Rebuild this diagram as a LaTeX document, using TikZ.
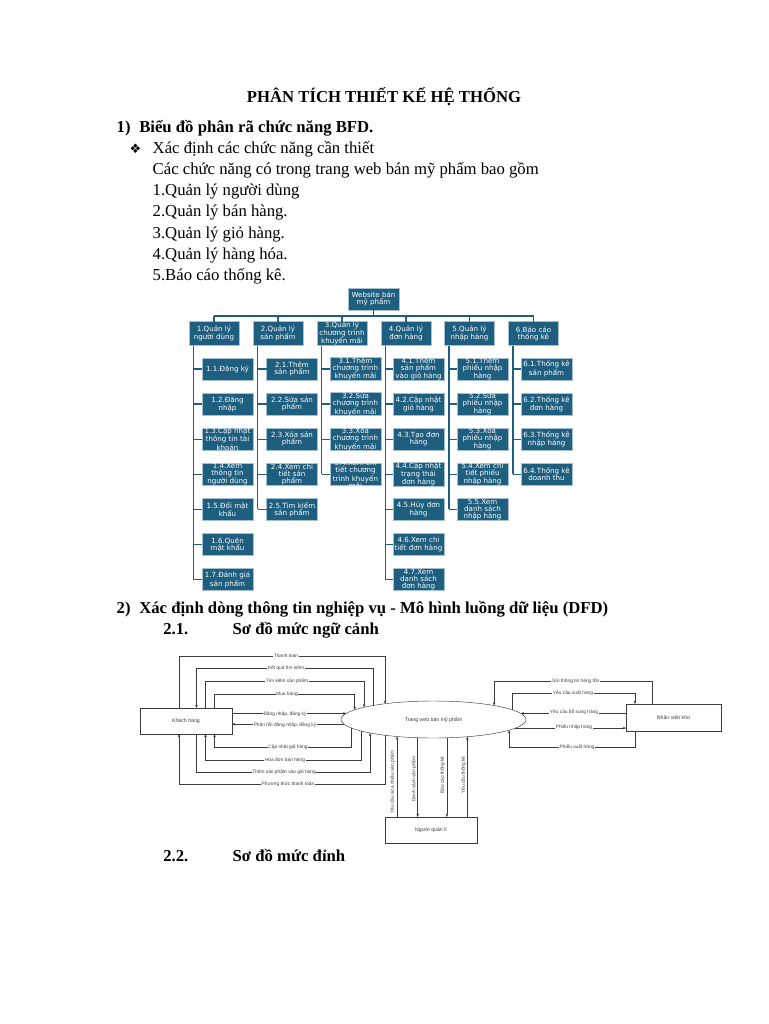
\documentclass[tikz,border=0pt]{standalone}
\usepackage{fontspec}
\setmainfont{Liberation Serif}
\newfontfamily\dejavu{DejaVu Sans}
\newfontfamily\arial{Liberation Sans}
\usetikzlibrary{arrows.meta,shapes.geometric}
\definecolor{bfdblue}{RGB}{30,94,126}
\definecolor{bfdedge}{RGB}{165,192,210}
\definecolor{dfdgray}{RGB}{60,60,60}
\tikzset{
  doc/.style={inner sep=0pt, outer sep=0pt, anchor=base west, font=\fontsize{16.7}{20}\selectfont},
  docb/.style={doc, font=\fontsize{16.7}{20}\selectfont\bfseries},
  bfdbox/.style={draw=bfdedge, line width=0.5pt, fill=bfdblue, text=white,
    font=\dejavu\fontsize{7.1}{7.1}\selectfont, align=center,
    minimum width=51pt, minimum height=22pt, inner sep=0pt, outer sep=0pt},
  headbox/.style={bfdbox, minimum width=50pt, minimum height=24pt},
  bfdtext/.style={text=white, font=\dejavu\fontsize{7.1}{7.1}\selectfont, align=center, inner sep=0pt},
  tree/.style={draw=bfdblue, line width=1.3pt},
  dfdline/.style={draw=dfdgray, line width=0.45pt},
  arr/.style={dfdline, -{Stealth[length=3.2pt,width=2.6pt]}},
  lbl/.style={fill=white, inner sep=0.6pt, font=\arial\fontsize{4.8}{5.5}\selectfont, text=dfdgray},
  vlbl/.style={rotate=90, inner sep=0pt, font=\arial\fontsize{4.8}{5.5}\selectfont, text=dfdgray},
  dfdbox/.style={draw=dfdgray, line width=0.45pt, fill=white, inner sep=0pt, outer sep=0pt,
    font=\arial\fontsize{5.2}{6}\selectfont, text=dfdgray},
}
\begin{document}
\begin{tikzpicture}[x=1pt,y=-1pt]
\useasboundingbox (0,0) rectangle (768,1024);
\fill[white] (0,0) rectangle (768,1024);

% ---------------- document text ----------------
\node[docb, anchor=base] (title) at (384,102.5) {PHÂN TÍCH THIẾT KẾ HỆ THỐNG};
\node[docb] (n1) at (116.7,133) {1)};
\node[docb] (s1t) at (139.3,133) {Biểu đồ phân rã chức năng BFD.};
\node[doc, font=\dejavu\fontsize{13}{14}\selectfont] (bul) at (129.5,153.5) {❖};
\node[doc] (l0) at (152.7,154) {Xác định các chức năng cần thiết};
\node[doc] (l1) at (152.7,175) {Các chức năng có trong trang web bán mỹ phẩm bao gồm};
\node[doc] (l2) at (152.7,196) {1.Quản lý người dùng};
\node[doc] (l3) at (152.7,217) {2.Quản lý bán hàng.};
\node[doc] (l4) at (152.7,238) {3.Quản lý giỏ hàng.};
\node[doc] (l5) at (152.7,259) {4.Quản lý hàng hóa.};
\node[doc] (l6) at (152.7,280) {5.Báo cáo thống kê.};
\node[docb] (n2) at (116.7,613.3) {2)};
\node[docb] (s2t) at (139.3,613.3) {Xác định dòng thông tin nghiệp vụ - Mô hình luồng dữ liệu (DFD)};
\node[docb] (n21) at (163.3,634.3) {2.1.};
\node[docb] (s21) at (232.7,634.3) {Sơ đồ mức ngữ cảnh};
\node[docb] (n22) at (163.3,861.7) {2.2.};
\node[docb] (s22) at (232.7,861.7) {Sơ đồ mức đỉnh};

% ---------------- BFD ----------------
\node[bfdbox] (root) at (373.5,299) {Website bán\\mỹ phẩm};
\node[headbox] (h1) at (214,333.5) {1.Quản lý\\người dùng};
\node[headbox] (h2) at (278,333.5) {2.Quản lý\\sản phẩm};
\node[headbox] (h3) at (342,333.5) {3.Quản lý\\chương trình\\khuyến mãi};
\node[headbox] (h4) at (406,333.5) {4.Quản lý\\đơn hàng};
\node[headbox] (h5) at (469.5,333.5) {5.Quản lý\\nhập hàng};
\node[headbox] (h6) at (533.5,333.5) {6.Báo cáo\\thống kê};

\coordinate (bus) at (0,316);
\coordinate (sp1) at (193.5,0);
\coordinate (sp2) at (257.5,0);
\coordinate (sp3) at (321.5,0);
\coordinate (sp4) at (385.5,0);
\coordinate (sp5) at (449,0);
\coordinate (sp6) at (513,0);

\foreach \t [count=\k] in {{1.1.Đăng ký},{1.2.Đăng\\nhập},{1.3.Cập nhật\\thông tin tài\\khoản},{1.4.Xem\\thông tin\\người dùng},{1.5.Đổi mật\\khẩu},{1.6.Quên\\mật khẩu},{1.7.Đánh giá\\sản phẩm}}
  \node[bfdbox] (c1-\k) at (227.5,{369+35.1*(\k-1)}) {\t};
\foreach \t [count=\k] in {{2.1.Thêm\\sản phẩm},{2.2.Sửa sản\\phẩm},{2.3.Xóa sản\\phẩm},{2.4.Xem chi\\tiết sản\\phẩm},{2.5.Tìm kiếm\\sản phẩm}}
  \node[bfdbox] (c2-\k) at (292,{369+35.1*(\k-1)}) {\t};
\foreach \t [count=\k] in {{3.1.Thêm\\chương trình\\khuyến mãi},{3.2.Sửa\\chương trình\\khuyến mãi},{3.3.Xóa\\chương trình\\khuyến mãi}}
  \node[bfdbox] (c3-\k) at (355.5,{369+35.1*(\k-1)}) {\t};
\node[bfdbox, label={[bfdtext]center:3.4.Xem chi\\tiết chương\\trình khuyến\\mãi}] (c3-4) at (355.5,474.3) {};
\foreach \t [count=\k] in {{4.1.Thêm\\sản phẩm\\vào giỏ hàng},{4.2.Cập nhật\\giỏ hàng},{4.3.Tạo đơn\\hàng},{4.4.Cập nhật\\trạng thái\\đơn hàng},{4.5.Hủy đơn\\hàng},{4.6.Xem chi\\tiết đơn hàng},{4.7.Xem\\danh sách\\đơn hàng}}
  \node[bfdbox] (c4-\k) at (418.5,{369+35.1*(\k-1)}) {\t};
\foreach \t [count=\k] in {{5.1.Thêm\\phiếu nhập\\hàng},{5.2.Sửa\\phiếu nhập\\hàng},{5.3.Xóa\\phiếu nhập\\hàng},{5.4.Xem chi\\tiết phiếu\\nhập hàng},{5.5.Xem\\danh sách\\nhập hàng}}
  \node[bfdbox] (c5-\k) at (482.5,{369+35.1*(\k-1)}) {\t};
\foreach \t [count=\k] in {{6.1.Thống kê\\sản phẩm},{6.2.Thống kê\\đơn hàng},{6.3.Thống kê\\nhập hàng},{6.4.Thống kê\\doanh thu}}
  \node[bfdbox] (c6-\k) at (546.5,{369+35.1*(\k-1)}) {\t};

\draw[tree] (root.south) -- (root.south |- bus);
\draw[tree] (h1.north |- bus) -- (h6.north |- bus);
\foreach \i in {1,...,6} \draw[tree] (h\i.north |- bus) -- (h\i.north);
\foreach \i/\n in {1/7,2/5,3/4,4/7,5/5,6/4} {
  \draw[tree] (sp\i |- h\i.south) -- (sp\i |- c\i-\n.west);
  \foreach \k in {1,...,\n} \draw[tree] (sp\i |- c\i-\k.west) -- (c\i-\k.west);
}

% ---------------- DFD ----------------
\node[dfdbox, minimum width=92pt, minimum height=26pt] (kh) at (186,721) {Khách hàng};
\node[dfdbox, ellipse, minimum width=185pt, minimum height=37pt] (ell) at (433.5,719.5) {Trang web bán mỹ phẩm};
\node[dfdbox, minimum width=92pt, minimum height=26pt] (nql) at (431,830) {Người quản lí};
\node[dfdbox, minimum width=95pt, minimum height=27pt] (kho) at (673.5,717.5) {Nhân viên kho};

\coordinate (t1) at (179,656);
\coordinate (t2) at (196.5,668);
\coordinate (t3) at (205.5,681);
\coordinate (t4) at (214.5,694);
\coordinate (b1) at (214.5,747.5);
\coordinate (b2) at (205.5,760);
\coordinate (b3) at (196.5,772);
\coordinate (b4) at (179,784.5);

\draw[arr] (kh.north -| t1) -- (t1) -| (ell.162.0);
\draw[arr] (ell.167.3) |- (t2) -- (kh.north -| t2);
\draw[arr] (kh.north -| t3) -- (t3) -| (ell.170.4);
\draw[arr] (kh.north -| t4) -- (t4) -| (ell.173.2);
\draw[arr] (kh.east |- ell.176.4) -- (ell.176.4);
\draw[arr] (ell.183.6) -- (kh.east |- ell.183.6);
\draw[arr] (ell.186.8) |- (b1) -- (kh.south -| b1);
\draw[arr] (ell.189.6) |- (b2) -- (kh.south -| b2);
\draw[arr] (kh.south -| b3) -- (b3) -| (ell.192.7);
\draw[arr] (ell.198.0) |- (b4) -- (kh.south -| b4);

\node[lbl] at (286,656) {Thanh toán};
\node[lbl] at (286,668) {Kết quả tìm kiếm};
\node[lbl] at (287,681) {Tìm kiếm sản phẩm};
\node[lbl] at (287,694) {Mua hàng};
\node[lbl] at (285,714) {Đăng nhập, đăng ký};
\node[lbl] at (285,725) {Phản hồi đăng nhập, đăng ký};
\node[lbl] at (288,747.5) {Cập nhật giỏ hàng};
\node[lbl] at (285,760) {Hóa đơn bán hàng};
\node[lbl] at (284,772) {Thêm sản phẩm vào giỏ hàng};
\node[lbl] at (288,784.5) {Phương thức thanh toán};

\coordinate (r1) at (652,681);
\coordinate (r2) at (635,693.5);
\coordinate (r3) at (635,747.5);
\draw[arr] (kho.north -| r1) -- (r1) -| (ell.13.0);
\draw[arr] (ell.7.27) |- (r2) -- (kho.north -| r2);
\draw[arr] (kho.west |- ell.4.67) -- (ell.4.67);
\draw[arr] (ell.354.5) -- (kho.west |- ell.354.5);
\draw[arr] (kho.south -| r3) -- (r3) -| (ell.352.73);

\node[lbl] at (575.5,681) {Gửi thông tin hàng tồn};
\node[lbl] at (573,693.5) {Yêu cầu xuất hàng};
\node[lbl] at (574,712.5) {Yêu cầu bổ sung hàng};
\node[lbl] at (574,727.5) {Phiếu nhập hàng};
\node[lbl] at (577,747.5) {Phiếu xuất hàng};

\draw[arr] (nql.north -| ell.205.7) -- (ell.205.7);
\draw[arr] (ell.229.65) -- (nql.north -| ell.229.65);
\draw[arr] (ell.306.4) -- (nql.north -| ell.306.4);
\draw[arr] (nql.north -| ell.333.55) -- (ell.333.55);

\node[vlbl] at (392.5,782) {Yêu cầu sửa nhiều sản phẩm};
\node[vlbl] at (414,779) {Danh sách sản phẩm};
\node[vlbl] at (442.5,775) {Báo cáo thống kê};
\node[vlbl] at (463.5,775) {Yêu cầu thống kê};
\end{tikzpicture}
\end{document}
